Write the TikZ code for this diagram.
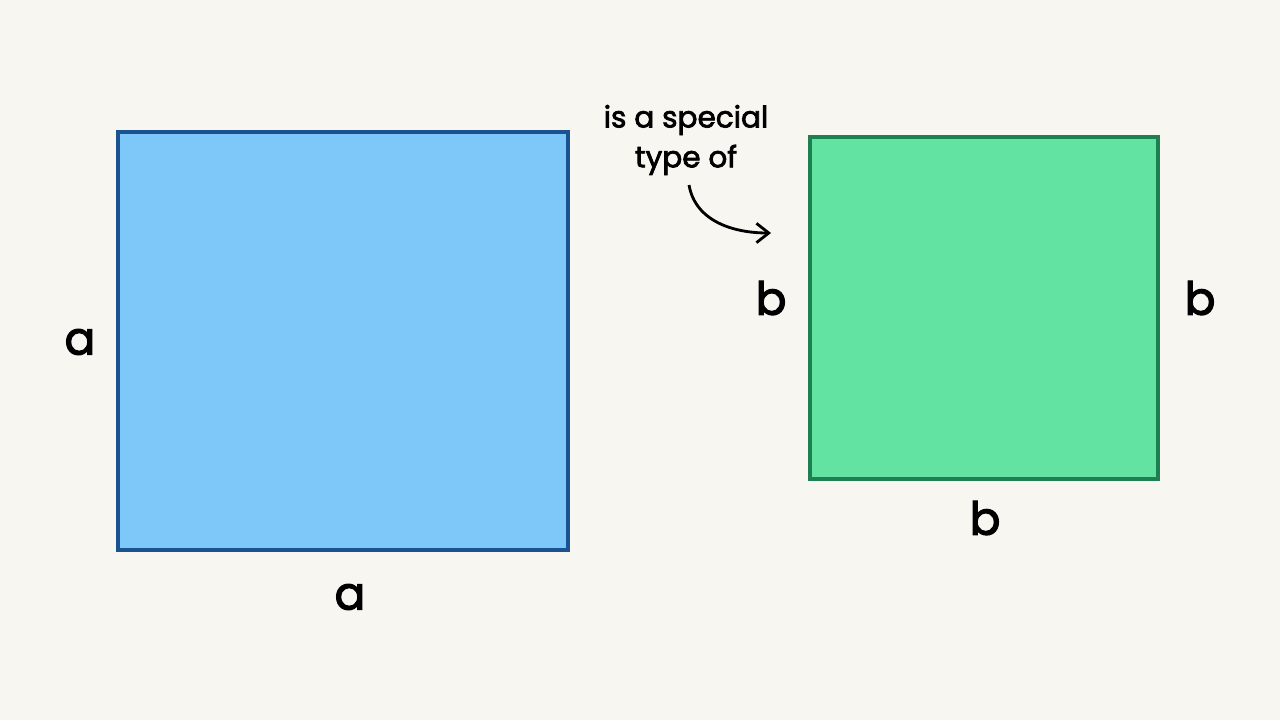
\documentclass[tikz,border=0pt]{standalone}
\usepackage{fontspec}
\setmainfont{Poppins}
\newfontfamily\handfont{Poppins}[FakeBold=2.5]
\usetikzlibrary{arrows.meta}
\definecolor{paper}{HTML}{F7F6F0}
\definecolor{bluefill}{HTML}{7DC8F8}
\definecolor{blueline}{HTML}{1B5290}
\definecolor{greenfill}{HTML}{62E3A2}
\definecolor{greenline}{HTML}{1E8050}
\tikzstyle{bigsquare}=[draw=blueline, fill=bluefill, line width=2pt]
\tikzstyle{smallsquare}=[draw=greenline, fill=greenfill, line width=2pt]
\tikzstyle{side}=[font=\fontsize{26}{30}\handfont]
\tikzstyle{note}=[font=\fontsize{16.8}{22.7}\handfont, align=center]

\begin{document}
\begin{tikzpicture}[x=0.02cm, y=-0.02cm]
          \fill[paper] (0, 0) rectangle (1280, 720);
          \useasboundingbox (0, 0) rectangle (1280, 720);
          % the two squares
          \draw[bigsquare] (118, 132) rectangle (568, 550);
          \draw[smallsquare] (810, 137) rectangle (1158, 479);
          \node[side] (aleft) at (80, 342) {a};
          \node[side] (abottom) at (350, 597) {a};
          \node[side] (bleft) at (771, 298) {b};
          \node[side] (bright) at (1200, 298) {b};
          \node[side] (bbottom) at (985, 518) {b};
          % the remark
          \node[note] (remark) at (686, 140) {is a special\\type of};
          \coordinate (tip) at (771, 233);
          \draw[line width=1.6pt, -{Straight Barb[length=7pt, width=11pt]}]
            (689, 185) to[out=-80, in=180] (tip);
        \end{tikzpicture}
\end{document}
